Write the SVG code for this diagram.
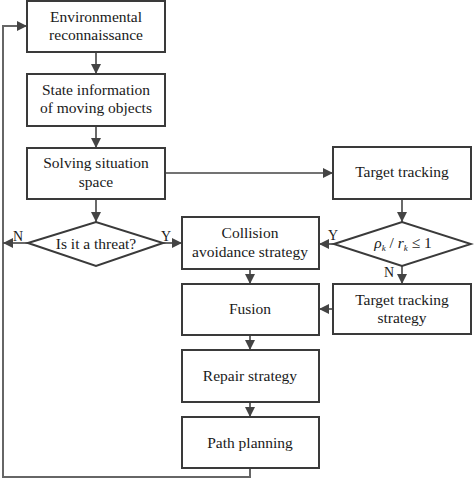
<svg xmlns="http://www.w3.org/2000/svg" width="474" height="479" viewBox="0 0 474 479">
<style>
.box{fill:#fff;stroke:#3a3a3a;stroke-width:2}
.t{font-family:'Liberation Serif','DejaVu Serif',serif;font-size:15.5px;fill:#1a1a1a;text-anchor:middle}
.lbl{font-family:'Liberation Serif','DejaVu Serif',serif;font-size:14px;fill:#1a1a1a}
.c{fill:none;stroke:#444;stroke-width:1.6}
.fb{fill:none;stroke:#666;stroke-width:2}
</style>
<defs>
<marker id="ah" viewBox="0 0 10 10" refX="10" refY="5" markerWidth="10" markerHeight="10" markerUnits="userSpaceOnUse" orient="auto">
<path d="M0,0 L10,5 L0,10 z" fill="#444"/>
</marker>
</defs>
<rect width="474" height="479" fill="#fff"/>
<g id="connectors">
<path class="fb" d="M250,468 V477 H3 V26 H17"/>
<path class="c" d="M17,26 H27" marker-end="url(#ah)"/>
<path class="c" d="M96,52 V74" marker-end="url(#ah)"/>
<path class="c" d="M96,126 V148" marker-end="url(#ah)"/>
<path class="c" d="M96,199 V222" marker-end="url(#ah)"/>
<path class="c" d="M165,173 H333" marker-end="url(#ah)"/>
<path class="c" d="M28,243 H3" marker-end="url(#ah)"/>
<path class="c" d="M163,243 H182" marker-end="url(#ah)"/>
<path class="c" d="M402,199 V222" marker-end="url(#ah)"/>
<path class="c" d="M334,244 H319" marker-end="url(#ah)"/>
<path class="c" d="M402,266 V284" marker-end="url(#ah)"/>
<path class="c" d="M333,309 H319" marker-end="url(#ah)"/>
<path class="c" d="M250,269 V284" marker-end="url(#ah)"/>
<path class="c" d="M250,335 V350" marker-end="url(#ah)"/>
<path class="c" d="M250,402 V417" marker-end="url(#ah)"/>
</g>
<g id="env">
<rect class="box" x="27" y="1" width="138" height="51"/>
<text class="t" x="96" y="22">Environmental</text>
<text class="t" x="96" y="40">reconnaissance</text>
</g>
<g id="state">
<rect class="box" x="27" y="74" width="138" height="52"/>
<text class="t" x="96" y="95">State information</text>
<text class="t" x="96" y="113">of  moving objects</text>
</g>
<g id="solving">
<rect class="box" x="27" y="148" width="138" height="51"/>
<text class="t" x="96" y="168">Solving situation</text>
<text class="t" x="96" y="187">space</text>
</g>
<g id="threat">
<polygon class="box" points="28,243 96,222 163,243 96,266"/>
<text class="t" x="96" y="249">Is it a threat?</text>
<text class="lbl" x="13" y="241">N</text>
<text class="lbl" x="161" y="241">Y</text>
</g>
<g id="tracking">
<rect class="box" x="333" y="147" width="138" height="52"/>
<text class="t" x="402" y="177">Target tracking</text>
</g>
<g id="ratio">
<polygon class="box" points="334,244 402,222 471,244 402,266"/>
<text class="t" x="403" y="248"><tspan font-style="italic">ρ</tspan><tspan font-style="italic" font-size="9" dy="3">k</tspan><tspan dy="-3"> / </tspan><tspan font-style="italic">r</tspan><tspan font-style="italic" font-size="9" dy="3">k</tspan><tspan dy="-3"> ≤ 1</tspan></text>
<text class="lbl" x="328" y="240">Y</text>
<text class="lbl" x="384" y="277">N</text>
</g>
<g id="collision">
<rect class="box" x="182" y="217" width="137" height="52"/>
<text class="t" x="250" y="238">Collision</text>
<text class="t" x="250" y="257">avoidance strategy</text>
</g>
<g id="tts">
<rect class="box" x="333" y="284" width="138" height="50"/>
<text class="t" x="402" y="305">Target tracking</text>
<text class="t" x="402" y="323">strategy</text>
</g>
<g id="fusion">
<rect class="box" x="182" y="284" width="137" height="51"/>
<text class="t" x="250" y="314">Fusion</text>
</g>
<g id="repair">
<rect class="box" x="182" y="350" width="137" height="52"/>
<text class="t" x="250" y="381">Repair strategy</text>
</g>
<g id="path">
<rect class="box" x="182" y="417" width="137" height="51"/>
<text class="t" x="250" y="448">Path planning</text>
</g>
</svg>
